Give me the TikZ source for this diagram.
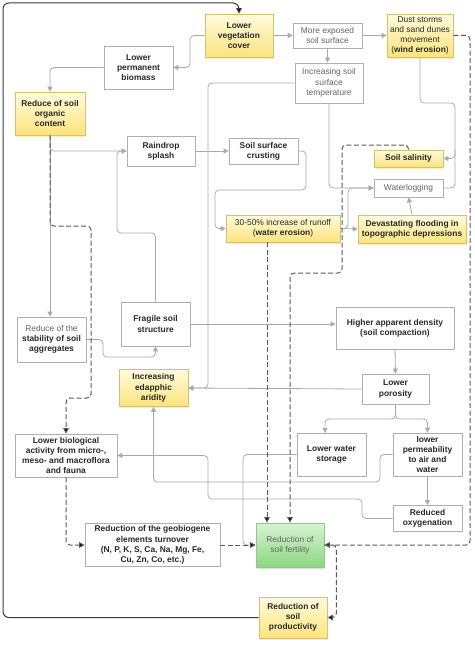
\documentclass[tikz,border=0pt]{standalone}
\usepackage{fontspec}
\setmainfont{Liberation Sans}
\usetikzlibrary{arrows.meta,shadows,calc}
\definecolor{bordergray}{RGB}{175,175,175}
\definecolor{conngray}{RGB}{170,170,170}
\definecolor{dashgray}{RGB}{90,90,90}
\definecolor{loopgray}{RGB}{60,60,60}
\definecolor{txtdark}{RGB}{40,40,40}
\definecolor{txtlight}{RGB}{100,100,100}
\definecolor{ytop}{RGB}{255,251,220}
\definecolor{ybot}{RGB}{252,228,125}
\definecolor{yborder}{RGB}{215,192,115}
\definecolor{yshadow}{RGB}{250,215,90}
\definecolor{gtop}{RGB}{215,243,210}
\definecolor{gbot}{RGB}{140,215,130}
\definecolor{gborder}{RGB}{150,195,145}
\newcommand{\dfont}{\fontsize{8.4}{10.3}\selectfont}
\tikzset{
 pbox/.style={draw=bordergray, fill=white, line width=0.7pt, rectangle, align=center, inner sep=1pt, text=txtdark, font=\dfont\bfseries},
 lbox/.style={draw=bordergray, fill=white, line width=0.7pt, rectangle, align=center, inner sep=1pt, text=txtlight, font=\dfont},
 ybox/.style={draw=yborder, line width=0.7pt, rectangle, align=center, inner sep=1pt, top color=ytop, bottom color=ybot, text=txtdark, font=\dfont\bfseries, drop shadow={shadow xshift=1.2pt, shadow yshift=-1.6pt, fill=yshadow, opacity=0.45}},
 gbox/.style={draw=gborder, line width=0.7pt, rectangle, align=center, inner sep=1pt, top color=gtop, bottom color=gbot, text=txtlight, font=\dfont, drop shadow={shadow xshift=1.2pt, shadow yshift=-1.6pt, fill=gbot, opacity=0.45}},
 gconn/.style={draw=conngray, line width=0.8pt, rounded corners=4pt, -{Triangle[length=5pt,width=5pt]}},
 gline/.style={draw=conngray, line width=0.8pt, rounded corners=4pt},
 dconn/.style={draw=dashgray, line width=1pt, dash pattern=on 5pt off 2.5pt, rounded corners=4pt, -{Triangle[length=5.5pt,width=5.5pt,fill=black]}},
 outerline/.style={draw=loopgray, line width=1pt, rounded corners=6pt, -{Triangle[length=5.5pt,width=5.5pt,fill=black]}},
}
\begin{document}
\begin{tikzpicture}[x=1pt,y=-1pt]
\useasboundingbox (0,0) rectangle (474,650);
% nodes
\node[ybox, minimum width=68pt, minimum height=43pt] (veg) at (239,35.5) {Lower\\vegetation\\cover};
\node[lbox, minimum width=69pt, minimum height=25pt] (expo) at (327.5,35.5) {More exposed\\soil surface};
\node[ybox, minimum width=66pt, minimum height=43pt, font=\dfont] (dust) at (420,35.5) {Dust storms\\and sand dunes\\movement\\(\textbf{wind erosion})};
\node[pbox, minimum width=69pt, minimum height=43pt] (bio) at (138.5,67.5) {Lower\\permanent\\biomass};
\node[lbox, minimum width=68pt, minimum height=40pt] (temp) at (329,83) {Increasing soil\\surface\\temperature};
\node[ybox, minimum width=70pt, minimum height=43pt] (org) at (50,113.5) {Reduce of soil\\organic\\content};
\node[pbox, minimum width=68pt, minimum height=30pt] (rain) at (161,151) {Raindrop\\splash};
\node[pbox, minimum width=69pt, minimum height=26pt] (crust) at (263.5,151) {Soil surface\\crusting};
\node[ybox, minimum width=69pt, minimum height=17pt] (sal) at (408.5,158.5) {Soil salinity};
\node[lbox, minimum width=69pt, minimum height=18pt] (wlog) at (408.5,188) {Waterlogging};
\node[ybox, minimum width=114pt, minimum height=27pt, font=\dfont] (runoff) at (283,228.5) {30-50\% increase of runoff\\(\textbf{water erosion})};
\node[ybox, minimum width=108pt, minimum height=28pt] (flood) at (412,229) {Devastating flooding in\\topographic depressions};
\node[pbox, minimum width=69pt, minimum height=45pt] (stab) at (51.5,339.5) {{\mdseries\color{txtlight}Reduce of the}\\stability of soil\\aggregates};
\node[pbox, minimum width=69pt, minimum height=44pt] (frag) at (155.5,324) {Fragile soil\\structure};
\node[ybox, minimum width=69pt, minimum height=37pt] (arid) at (153.5,388) {Increasing\\edapphic\\aridity};
\node[pbox, minimum width=118pt, minimum height=42pt] (dens) at (395,328) {Higher apparent density\\(soil compaction)};
\node[pbox, minimum width=67pt, minimum height=30pt] (por) at (395.5,389) {Lower\\porosity};
\node[pbox, minimum width=69pt, minimum height=43pt] (wsto) at (331.5,454.5) {Lower water\\storage};
\node[pbox, minimum width=69pt, minimum height=43pt] (perm) at (427.5,454.5) {lower\\permeability\\to air and\\water};
\node[pbox, minimum width=69pt, minimum height=26pt] (oxy) at (427.5,518.5) {Reduced\\oxygenation};
\node[pbox, minimum width=102pt, minimum height=43pt] (biol) at (66,455.5) {Lower biological\\activity from micro-,\\meso- and macroflora\\and fauna};
\node[pbox, minimum width=135pt, minimum height=43pt] (geo) at (152.5,545) {Reduction of the geobiogene\\elements turnover\\(N, P, K, S, Ca, Na, Mg, Fe,\\Cu, Zn, Co, etc.)};
\node[gbox, minimum width=68pt, minimum height=44pt] (fert) at (290,545) {Reduction of\\soil fertility};
\node[ybox, minimum width=68pt, minimum height=41pt] (prod) at (293,617.5) {Reduction of\\soil\\productivity};
% gray connectors
\draw[gconn] (veg.west) -- (190,35.5) |- (bio.east);
\draw[gconn] (bio.west) -| (org.north);
\draw[gconn] (veg.east) -- (expo.west);
\draw[gconn] (expo.east) -- (dust.west);
\draw[gconn] (expo.south) -- (expo.south |- temp.north);
\draw[gconn] (temp.west) -- (208,83) |- (arid.east);
\draw[gconn] (temp.south) |- (wlog.west);
\draw[gconn] (dust.south) |- (455,103) |- (sal.east);
\draw[gline] (455,150) |- (wlog.east);
\draw[gconn] (org.south) |- (rain.west);
\draw[gconn] (org.south) -- (org.south |- stab.north);
\draw[gconn] (rain.east) -- (crust.west);
\draw[gconn] (crust.east) -- (306,151) |- (215,190) |- (runoff.west);
\draw[gconn] (frag.north) |- (117,233) |- (rain.west);
\draw[gconn] (runoff.east) -- (flood.west);
\draw[gconn] (runoff.east) -- (348,228.5) |- (wlog.west);
\draw[gconn] (flood.north) -- (wlog.south);
\draw[gconn] (stab.east) -- (103,339.5) |- (155.5,357) -- (frag.south);
\draw[gconn] (frag.east) -- (frag.east -| dens.west);
\draw[gconn] (dens.south) -- (por.north);
\draw[gconn] (por.south) |- (325,419) -- (325,433);
\draw[gconn] (por.south) |- (427.5,419) -- (perm.north);
\draw[gconn] (por.west) -- (arid.east);
\draw[gconn] (wsto.west) -| (243,545) -- (fert.west);
\draw[gconn] (perm.west) -- (380,454.5) |- (153.5,482) -- (arid.south);
\draw[gconn] (perm.south) -- (oxy.north);
\draw[gconn] (oxy.west) -- (362,518.5) |- (208,499) |- (biol.east);
% dashed connectors
\draw[dconn] (org.south) -- (50,226) -- (91,226) -- (91,398) -- (66,398) -- (biol.north);
\draw[dconn] (biol.south) |- (geo.west);
\draw[dconn] (geo.east) -- (fert.west);
\draw[dconn] (sal.north) |- (342,145) -- (342,273) -| (fert.north);
\draw[dconn] ($(runoff.south)+(-16,0)$) -- ($(fert.north)+(-23,0)$);
\draw[dconn] (dust.east) -| (470,545) -- (fert.east);
\draw[dconn] (fert.east) -- ++(12,0) |- (prod.east);
% outer loop
\draw[outerline] (prod.west) -- (3,617.5) -- (3,3) -| (veg.north);
\end{tikzpicture}
\end{document}
